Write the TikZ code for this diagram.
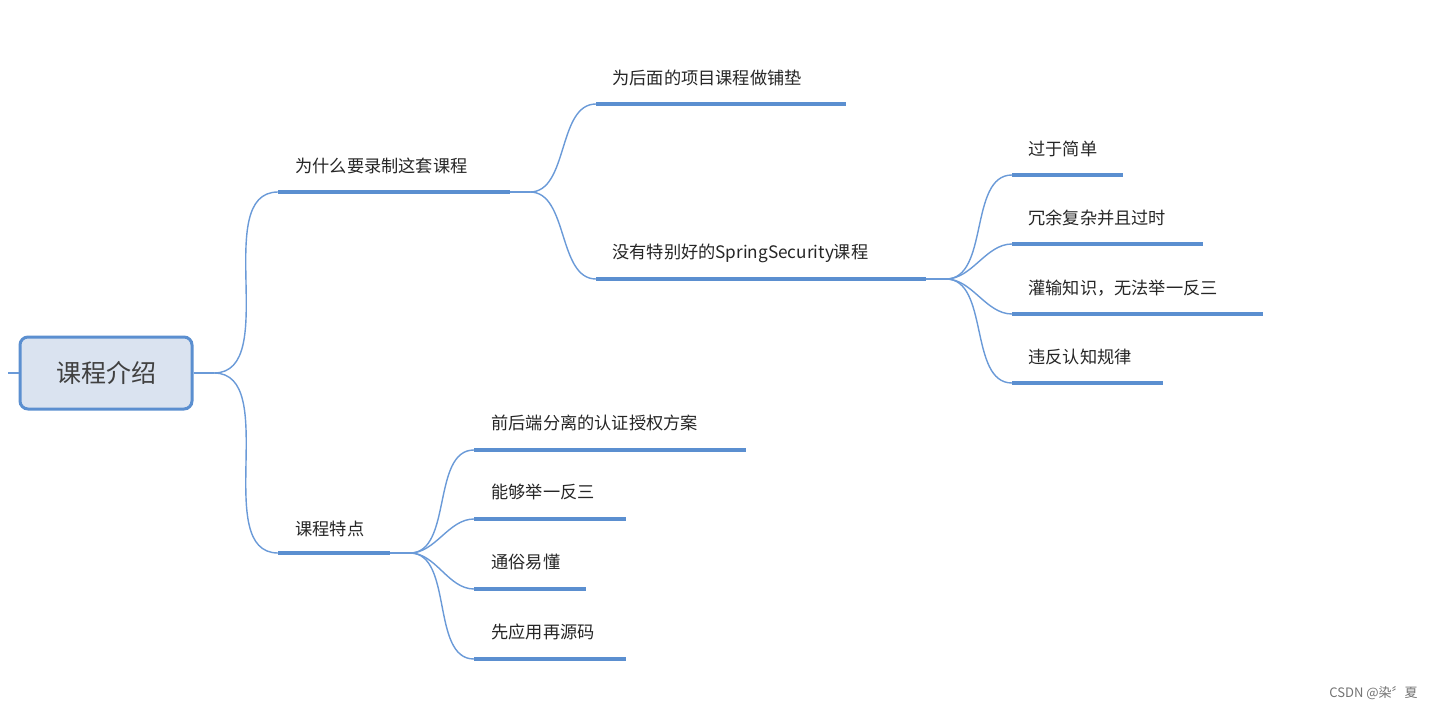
\documentclass[tikz,border=0pt]{standalone}
\usepackage{fontspec}
\setmainfont{Noto Sans CJK SC}
\begin{document}
\begin{tikzpicture}[x=0.5pt,y=-0.5pt,
  thin line/.style={draw=linkblue,line width=0.7pt},
  under/.style={draw=ulblue,line width=2pt},
  lbl/.style={anchor=west,inner sep=0pt,font=\fontsize{8.6pt}{10pt}\selectfont,text=black!85},
  curve/.style={thin line,out=0,in=180,looseness=0.9}]
\definecolor{linkblue}{HTML}{6A9AD8}
\definecolor{ulblue}{HTML}{5B8FD0}
\definecolor{rootfill}{HTML}{DAE3F0}
\useasboundingbox (0,0) rectangle (1433,711);
\fill[white] (0,0) rectangle (1433,711);
% root
\node[draw=ulblue,line width=1.5pt,fill=rootfill,rounded corners=4pt,minimum width=86pt,minimum height=36pt,font=\fontsize{12.5pt}{14pt}\selectfont,text=black!75] (root) at (106,373) {课程介绍};
\coordinate (rl) at (8,373);
\coordinate (rr) at (214,373);
\draw[thin line] (rl) -- (root.west);
\draw[thin line] (root.east) -- (rr);
% level 1
\coordinate (a1) at (278,192); \coordinate (a2) at (510,192); \coordinate (a3) at (530,192);
\coordinate (b1) at (278,553); \coordinate (b2) at (390,553); \coordinate (b3) at (410,553);
\draw[curve] (rr) to (a1); \draw[curve] (rr) to (b1);
\draw[under] (a1) -- (a2); \draw[thin line] (a2) -- (a3);
\draw[under] (b1) -- (b2); \draw[thin line] (b2) -- (b3);
\node[lbl] (ta) at (295,166) {为什么要录制这套课程};
\node[lbl] (tb) at (295,529) {课程特点};
% level 2 of a
\coordinate (c1) at (596,104); \coordinate (c2) at (846,104);
\coordinate (d1) at (596,279); \coordinate (d2) at (926,279); \coordinate (d3) at (946,279);
\draw[curve] (a3) to (c1); \draw[curve] (a3) to (d1);
\draw[under] (c1) -- (c2); \draw[under] (d1) -- (d2); \draw[thin line] (d2) -- (d3);
\node[lbl] (tc) at (612,78) {为后面的项目课程做铺垫};
\node[lbl] (td) at (612,253) {没有特别好的SpringSecurity课程};
% level 3 of d
\foreach \y/\e/\t [count=\i] in {175/1123/过于简单,244/1203/冗余复杂并且过时,314/1263/灌输知识，无法举一反三,383/1163/违反认知规律}{
  \coordinate (e\i) at (1012,\y); \coordinate (f\i) at (\e,\y);
  \draw[curve] (d3) to (e\i); \draw[under] (e\i) -- (f\i);
  \node[lbl] (te\i) at (1028,\y-26) {\t};
}
% level 2 of b
\foreach \y/\e/\t [count=\i] in {450/746/前后端分离的认证授权方案,519/626/能够举一反三,589/586/通俗易懂,659/626/先应用再源码}{
  \coordinate (g\i) at (474,\y); \coordinate (h\i) at (\e,\y);
  \draw[curve] (b3) to (g\i); \draw[under] (g\i) -- (h\i);
  \node[lbl] (tg\i) at (491,\y-27) {\t};
}
\node[anchor=east,inner sep=0pt,font=\fontsize{6.5pt}{8pt}\selectfont,text=black!55] (wm) at (1418,693) {CSDN @染〞夏};
\end{tikzpicture}
\end{document}
